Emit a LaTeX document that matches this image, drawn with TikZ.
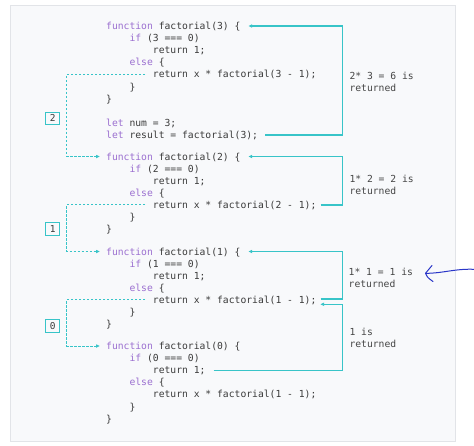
\documentclass[tikz,border=0pt]{standalone}
\usepackage{fontspec}
\setmonofont{DejaVu Sans Mono}
\usetikzlibrary{arrows.meta}
\definecolor{cy}{HTML}{38C4C8}
\definecolor{kwc}{HTML}{9B6FD0}
\definecolor{tx}{HTML}{3A3A3A}
\definecolor{lab}{HTML}{454545}
\definecolor{panel}{HTML}{F8F9FB}
\definecolor{pborder}{HTML}{E2E4E8}
\definecolor{ink}{HTML}{2A36C8}
\newcommand\kwd[1]{\textcolor{kwc}{#1}}
\begin{document}
\begin{tikzpicture}[x=1pt,y=-1pt,
  code/.style={anchor=base west, inner sep=0pt, text height=7pt, text depth=0pt,
    font=\ttfamily\fontsize{9.7}{12.1}\selectfont, text=tx},
  note/.style={anchor=base west, inner sep=0pt,
    font=\ttfamily\fontsize{9.7}{12.1}\selectfont, text=lab},
  ret/.style={draw=cy, line width=1.3pt, -{Latex[length=4pt,width=3.8pt]}},
  call/.style={draw=cy, line width=1pt, dash pattern=on 2.5pt off 1.5pt,
    -{Latex[length=4pt,width=3.8pt]}},
  numbox/.style={draw=cy, line width=0.8pt, minimum width=14pt, minimum height=12.5pt,
    inner sep=0pt, font=\ttfamily\fontsize{9.5}{9.5}\selectfont, text=tx}]
\useasboundingbox (0,0) rectangle (474,445);
\fill[white] (0,0) rectangle (474,445);
\draw[pborder, fill=panel, line width=0.8pt] (10,5) rectangle (455,441);

% Block factorial(3)
\node[code] (f3)   at (106,29.5)   {\kwd{function} factorial(3) \{};
\node[code] (if3)  at (129.36,41.6) {\kwd{if} (3 === 0)};
\node[code] (ra3)  at (152.72,53.7) {return 1;};
\node[code] (el3)  at (129.36,65.8) {\kwd{else} \{};
\node[code] (r3x)  at (152.72,77.9) {return x * factorial(3 - 1);};
\node[code] (c3a)  at (129.36,90.0) {\}};
\node[code] (c3b)  at (106,102.1)  {\}};
\node[code] (num)  at (106,126.3)  {\kwd{let} num = 3;};
\node[code] (res)  at (106,138.4)  {\kwd{let} result = factorial(3);};

% Block factorial(2)
\node[code] (f2)   at (106,160)    {\kwd{function} factorial(2) \{};
\node[code] (if2)  at (129.36,172.1) {\kwd{if} (2 === 0)};
\node[code] (ra2)  at (152.72,184.2) {return 1;};
\node[code] (el2)  at (129.36,196.3) {\kwd{else} \{};
\node[code] (r2x)  at (152.72,208.4) {return x * factorial(2 - 1);};
\node[code] (c2a)  at (129.36,220.5) {\}};
\node[code] (c2b)  at (106,232.6)  {\}};

% Block factorial(1)
\node[code] (f1)   at (106,255)    {\kwd{function} factorial(1) \{};
\node[code] (if1)  at (129.36,267.1) {\kwd{if} (1 === 0)};
\node[code] (ra1)  at (152.72,279.2) {return 1;};
\node[code] (el1)  at (129.36,291.3) {\kwd{else} \{};
\node[code] (r1x)  at (152.72,303.4) {return x * factorial(1 - 1);};
\node[code] (c1a)  at (129.36,315.5) {\}};
\node[code] (c1b)  at (106,327.6)  {\}};

% Block factorial(0)
\node[code] (f0)   at (106,349.5)  {\kwd{function} factorial(0) \{};
\node[code] (if0)  at (129.36,361.6) {\kwd{if} (0 === 0)};
\node[code] (ra0)  at (152.72,373.7) {return 1;};
\node[code] (el0)  at (129.36,385.8) {\kwd{else} \{};
\node[code] (r0x)  at (152.72,397.9) {return x * factorial(1 - 1);};
\node[code] (c0a)  at (129.36,410.0) {\}};
\node[code] (c0b)  at (106,422.1)  {\}};

% Notes
\node[note] (n1a) at (349.3,79.3)  {2* 3 = 6 is};
\node[note] (n1b) at (349.3,91.4)  {returned};
\node[note] (n2a) at (349.3,182.3) {1* 2 = 2 is};
\node[note] (n2b) at (349.3,194.4) {returned};
\node[note] (n3a) at (348.5,275.7) {1* 1 = 1 is};
\node[note] (n3b) at (348.5,287.8) {returned};
\node[note] (n4a) at (349.3,335.7) {1 is};
\node[note] (n4b) at (349.3,347.8) {returned};

% Step boxes
\node[numbox] (b2) at (52.8,118.3) {2};
\node[numbox] (b1) at (52.8,228.7) {1};
\node[numbox] (b0) at (52.8,325.8) {0};

% Columns
\coordinate (rc) at (342.8,0);
\coordinate (lc) at (66.7,0);

% Return connectors
\draw[ret] ([xshift=7pt]res.east) -- (res.east -| rc) |- ([xshift=7.5pt]f3.east);
\draw[ret] ([xshift=4pt]r2x.east) -- (r2x.east -| rc) |- ([xshift=7.5pt]f2.east);
\coordinate (s3) at ([xshift=4pt,yshift=1pt]r1x.east);
\draw[ret] (s3) -- (s3 -| rc) |- ([xshift=7.5pt]f1.east);
\coordinate (s4) at ([xshift=8pt,yshift=-0.5pt]ra0.east);
\coordinate (e4) at ([xshift=3.5pt,yshift=-4.4pt]r1x.east);
\draw[ret] (s4) -- (s4 -| rc) |- (e4);

% Call connectors
\coordinate (d3) at ([xshift=-7.5pt]r3x.west);
\draw[call] (d3) -- (d3 -| lc) |- ([xshift=-6pt]f2.west);
\coordinate (d2) at ([xshift=-7.5pt]r2x.west);
\draw[call] (d2) -- (d2 -| lc) |- ([xshift=-6pt]f1.west);
\coordinate (d1) at ([xshift=-7.5pt]r1x.west);
\draw[call] (d1) -- (d1 -| lc) |- ([xshift=-6pt]f0.west);

% Hand-drawn pointer
\coordinate (hs) at (474,269.3);
\coordinate (ht) at (425.5,273.3);
\draw[ink, line width=1pt, line cap=round] (hs) .. controls (455,268.5) and (442,273.5) .. (ht);
\draw[ink, line width=1pt, line cap=round, line join=round]
  (432,265.5) .. controls (429,268.5) .. (ht) .. controls (427.5,277.5) .. (433,281.5);
\end{tikzpicture}
\end{document}
